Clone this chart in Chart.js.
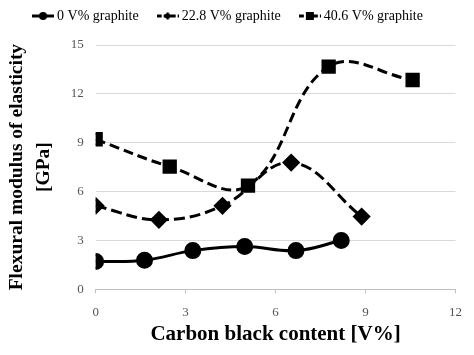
<!DOCTYPE html>
<html><head><meta charset="utf-8">
<script src="https://cdn.jsdelivr.net/npm/chart.js@4/dist/chart.umd.min.js"></script>
<style>html,body{margin:0;padding:0;background:#fff}#wrap{width:474px;height:355px}</style>
</head><body><div id="wrap"><canvas id="c" width="474" height="355"></canvas></div>
<script>
const seriesNames = ["0 V% graphite", "22.8 V% graphite", "40.6 V% graphite"];
const x0 = [0, 1.63, 3.24, 4.97, 6.68, 8.19];
const y0 = [1.70, 1.78, 2.37, 2.62, 2.37, 2.99];
const x1 = [0, 2.11, 4.23, 6.52, 8.87];
const y1 = [5.12, 4.26, 5.12, 7.78, 4.46];
const x2 = [0, 2.47, 5.08, 7.77, 10.57];
const y2 = [9.21, 7.53, 6.36, 13.67, 12.85];
const xTicks = [0, 3, 6, 9, 12];
const yTicks = [0, 3, 6, 9, 12, 15];

const pts = (xs, ys) => xs.map((x, i) => ({x, y: ys[i]}));
const FONT = "'Liberation Serif', 'Times New Roman', serif";

function legendIcon(style, dashed) {
  const c = document.createElement('canvas');
  c.width = 22; c.height = 14;
  const g = c.getContext('2d');
  g.strokeStyle = '#000'; g.fillStyle = '#000'; g.lineWidth = 3;
  if (dashed) g.setLineDash([5, 2]);
  g.beginPath(); g.moveTo(0, 7); g.lineTo(22, 7); g.stroke();
  g.setLineDash([]);
  g.beginPath();
  if (style === 'circle') { g.arc(11, 7, 4, 0, Math.PI * 2); g.fill(); }
  else if (style === 'rectRot') { g.moveTo(11, 3); g.lineTo(15, 7); g.lineTo(11, 11); g.lineTo(7, 7); g.closePath(); g.fill(); }
  else { g.fillRect(7, 3, 8, 8); }
  return c;
}

const datasets = [
  {label: seriesNames[0], data: pts(x0, y0), pointStyle: 'circle', pointRadius: 7, borderDash: [], icon: legendIcon('circle', false)},
  {label: seriesNames[1], data: pts(x1, y1), pointStyle: 'rectRot', pointRadius: 7, borderDash: [11, 5], icon: legendIcon('rectRot', true)},
  {label: seriesNames[2], data: pts(x2, y2), pointStyle: 'rect', pointRadius: 8, borderDash: [10, 5], icon: legendIcon('rect', true)}
].map(d => Object.assign({
  showLine: true, borderColor: '#000', backgroundColor: '#000', pointBackgroundColor: '#000', pointBorderColor: '#000',
  borderWidth: 3, tension: 0.4, pointHoverRadius: 7
}, d));

const legendSpacer = {
  id: 'legendSpacer',
  afterInit(chart) {
    const lg = chart.legend;
    if (!lg) return;
    const fit = lg.fit.bind(lg);
    lg.fit = function () { fit(); this.height += 12; };
  }
};

new Chart(document.getElementById('c'), {
  type: 'scatter',
  data: {datasets},
  plugins: [legendSpacer],
  options: {
    responsive: false, animation: false,
    layout: {padding: {left: 0, right: 15, top: -13, bottom: 6}},
    plugins: {
      tooltip: {enabled: false},
      legend: {
        position: 'top',
        labels: {
          font: {family: FONT, size: 14}, color: '#000', boxHeight: 14, padding: 22,
          usePointStyle: true,
          generateLabels: (chart) => chart.data.datasets.map((d, i) => ({
            text: d.label, pointStyle: d.icon, fillStyle: '#000', strokeStyle: '#000', lineWidth: 0, hidden: false, datasetIndex: i
          }))
        }
      }
    },
    scales: {
      x: {
        type: 'linear', min: 0, max: 12,
        afterBuildTicks: (s) => { s.ticks = xTicks.map(v => ({value: v})); },
        grid: {display: true, drawOnChartArea: false, drawTicks: true, tickLength: 4, color: '#bfbfbf'},
        border: {color: '#bfbfbf'},
        ticks: {font: {family: FONT, size: 13}, color: '#555', padding: 12},
        title: {display: true, text: 'Carbon black content [V%]', font: {family: FONT, size: 21, weight: 'bold'}, color: '#000', padding: {top: -11, bottom: 2}}
      },
      y: {
        min: 0, max: 15,
        afterBuildTicks: (s) => { s.ticks = yTicks.map(v => ({value: v})); },
        grid: {color: '#d9d9d9', drawTicks: false},
        border: {display: false},
        ticks: {font: {family: FONT, size: 13}, color: '#555', padding: 12},
        title: {display: true, text: ['Flexural modulus of elasticity', '[GPa]'], font: {family: FONT, size: 19.5, weight: 'bold', lineHeight: 1.35}, color: '#000', padding: {bottom: 2}}
      }
    }
  }
});
</script></body></html>
